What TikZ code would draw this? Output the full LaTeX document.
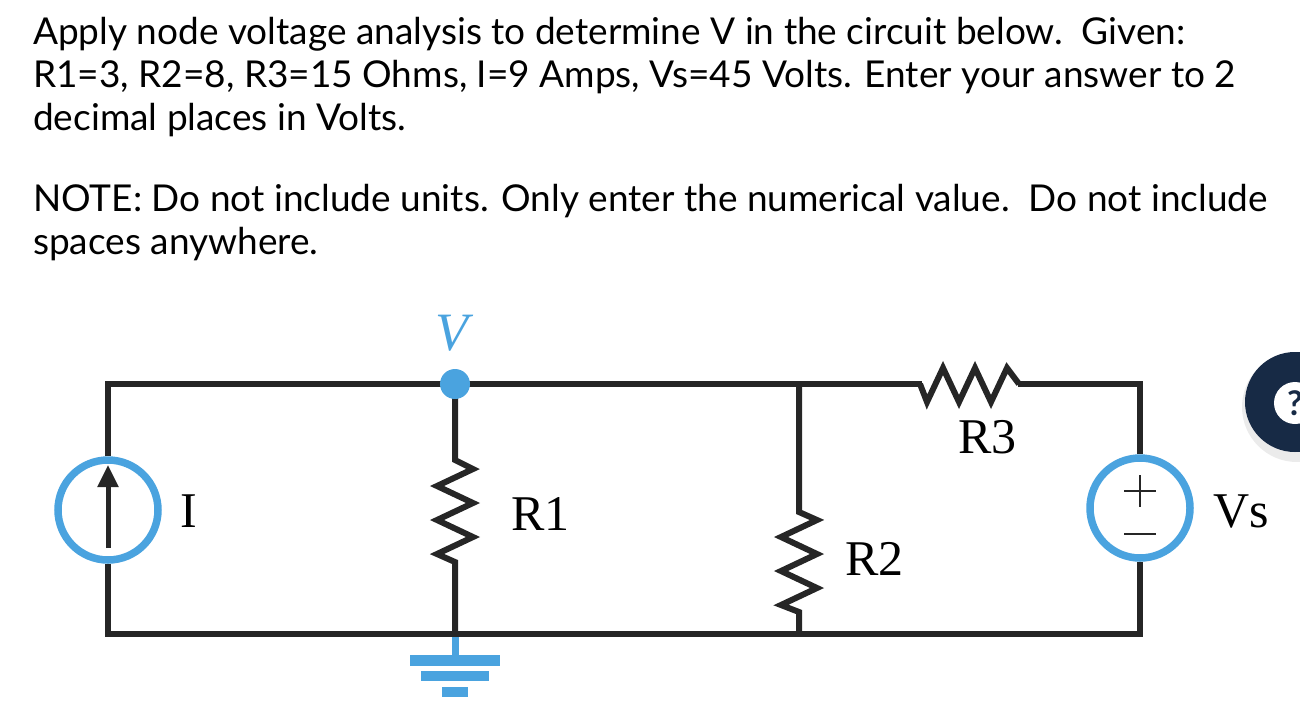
\documentclass[tikz,border=0pt]{standalone}
\usetikzlibrary{arrows.meta}
\usepackage{fontspec}
\setmainfont{Lato}
\newfontfamily\tms{Liberation Serif}
\definecolor{cblue}{HTML}{4AA3DF}
\definecolor{navy}{HTML}{172A45}
\begin{document}
\begin{tikzpicture}[x=1pt,y=-1pt,
  wire/.style={line width=6pt,black!85,line join=miter},
  src/.style={circle,draw=cblue,line width=7.5pt,minimum size=100pt,inner sep=0pt},
  txt/.style={anchor=base west,inner sep=0pt,font=\fontsize{37}{43}\selectfont},
  lab/.style={anchor=base west,inner sep=0pt,font=\tms\fontsize{50}{50}\selectfont}]
\useasboundingbox (0,0) rectangle (1300,726);
\clip (0,0) rectangle (1300,726);
% text
\node[txt] (t1) at (33,44) {Apply node voltage analysis to determine V in the circuit below.\ \ Given:};
\node[txt] (t2) at (33,87) {R1=3, R2=8, R3=15 Ohms, I=9 Amps, Vs=45 Volts. Enter your answer to 2};
\node[txt] (t3) at (33,130) {decimal places in Volts.};
\node[txt] (t4) at (33,211) {NOTE: Do not include units. Only enter the numerical value.\ \ Do not include};
\node[txt] (t5) at (33,254) {spaces anywhere.};
% sources
\node[src] (isrc) at (108,510) {};
\node[src] (vsrc) at (1140,508) {};
% wires
\draw[wire] (isrc.north) -- (108,384) -- (922,384);
\draw[wire] (1018,384) -- (1140,384) -- (vsrc.north);
\draw[wire] (isrc.south) -- (108,634) -- (1140,634) -- (vsrc.south);
% R1
\draw[wire] (455,384) -- (455,460) -- (473,469) -- (437,486) -- (473,503) -- (437,520) -- (473,537) -- (437,554) -- (455,562) -- (455,634);
% R2
\draw[wire] (799,384) -- (799,512) -- (817,520) -- (781,537) -- (817,554) -- (781,571) -- (817,588) -- (781,605) -- (799,612) -- (799,634);
% R3
\draw[wire] (920,384) -- (927,402) -- (943,368) -- (959,402) -- (975,368) -- (991,402) -- (1007,368) -- (1019,384);
% arrow and signs
\draw[line width=5pt,black!85,-{Triangle[length=22pt,width=20pt]}] (108,548) -- (108,465);
\draw[line width=1.5pt,black!85] (1124,491) -- (1156,491) (1140,475) -- (1140,507) (1124,534) -- (1156,534);
% node V
\fill[cblue] (455,384) circle (15);
\node[anchor=base,inner sep=0pt,text=cblue,font=\tms\itshape\fontsize{54}{54}\selectfont] (vl) at (452,350) {V};
% ground
\draw[line width=7pt,cblue] (455,637) -- (455,660);
\fill[cblue] (410,655) rectangle (500,666);
\fill[cblue] (421,671) rectangle (489,681);
\fill[cblue] (442,687) rectangle (468,697);
% labels
\node[lab] (li) at (180,527) {I};
\node[lab] (l1) at (511,530) {R1};
\node[lab] (l2) at (845,575) {R2};
\node[lab] (l3) at (958,453) {R3};
\node[lab] (lv) at (1213,527) {Vs};
% help button
\fill[black!20,opacity=.4] (1297,407) circle (55);
\node[circle,fill=navy,minimum size=100pt,inner sep=0pt] (help) at (1295,402) {};
\node[circle,fill=white,minimum size=42pt,inner sep=0pt,font=\bfseries\fontsize{34}{34}\selectfont,text=navy] (q) at (1295,403) {?};
\end{tikzpicture}
\end{document}
